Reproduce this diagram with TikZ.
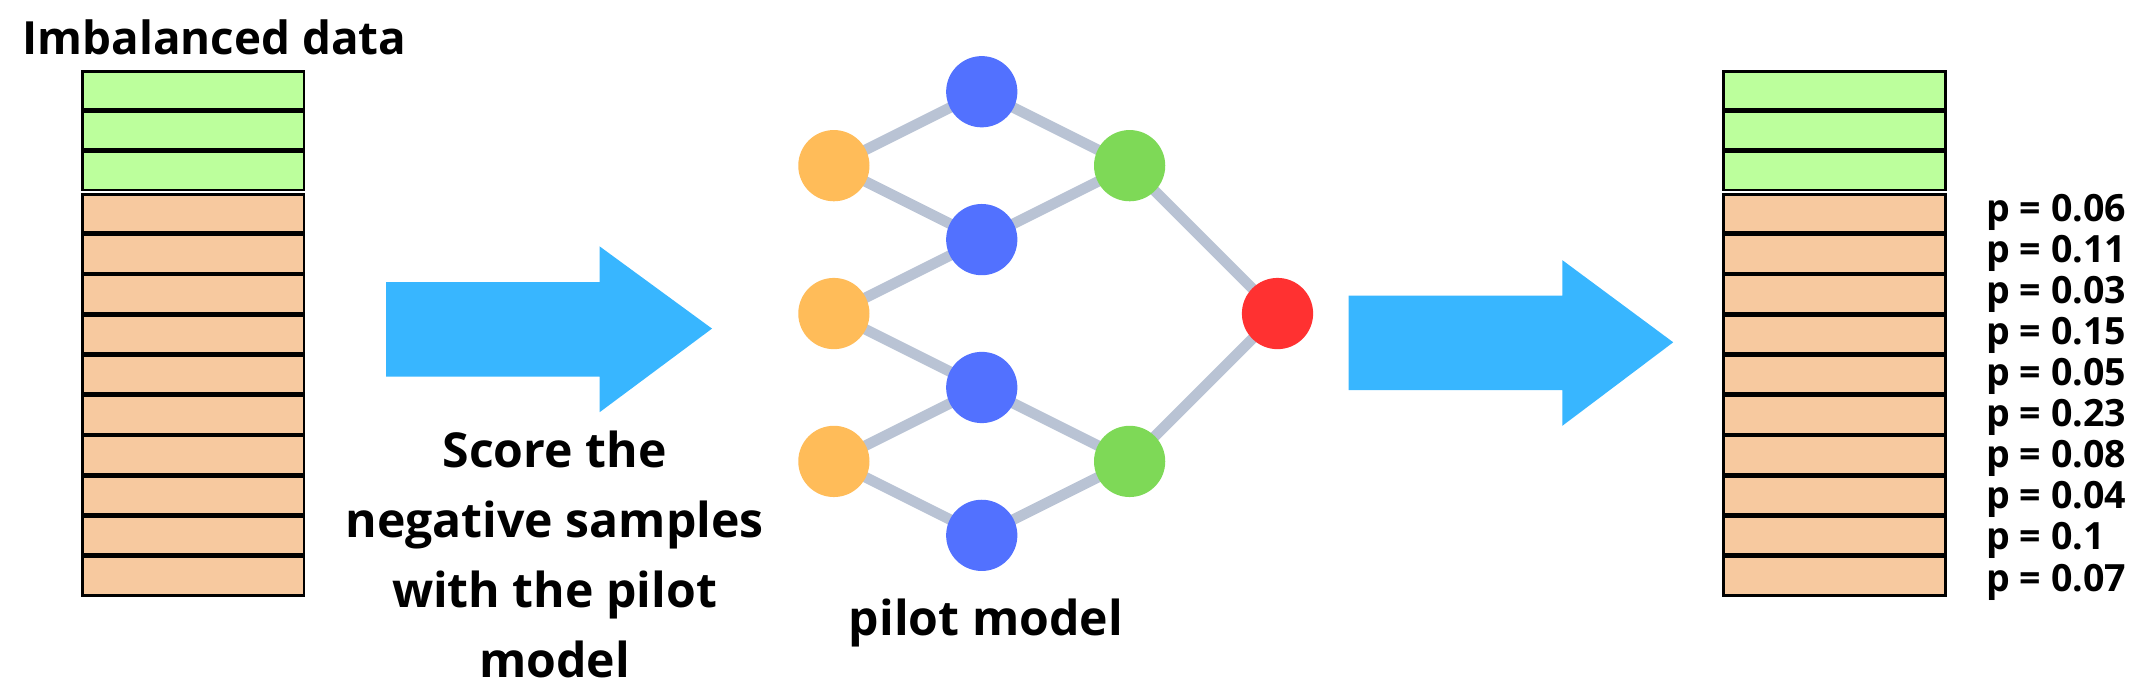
\documentclass[tikz,border=0pt]{standalone}
\usepackage{fontspec}
\setmainfont{Open Sans}
\usetikzlibrary{positioning}
\definecolor{rowgreen}{HTML}{BCFF9C}
\definecolor{roworange}{HTML}{F7C99F}
\definecolor{nblue}{HTML}{5271FF}
\definecolor{norange}{HTML}{FFBC59}
\definecolor{ngreen}{HTML}{7ED957}
\definecolor{nred}{HTML}{FF3131}
\definecolor{arrowblue}{HTML}{38B6FF}
\definecolor{edgegray}{HTML}{B9C3D4}
\tikzset{
  row/.style = {draw=black, line width=0.6pt, minimum width=1.62cm, minimum height=0.28cm, inner sep=0pt},
  unit/.style = {circle, minimum size=0.52cm, inner sep=0pt},
  link/.style = {edgegray, line width=2.2pt},
  lbl/.style = {font=\bfseries\fontsize{10}{14.5}\selectfont, align=center},
}
\begin{document}
\begin{tikzpicture}[x=0.01cm, y=-0.01cm]
  \useasboundingbox (0,0) rectangle (1568,501);
  \node (title) [anchor=west, font=\bfseries\fontsize{9.5}{11}\selectfont] at (4,27) {Imbalanced data};

  % data stacks
  \foreach \x/\s in {141/l, 1340/r} {
    \foreach \i in {1,2,3}
      \node (\s g\i) [row, fill=rowgreen] at (\x, {66+29.4*(\i-1)}) {};
    \foreach \i in {1,...,10}
      \node (\s o\i) [row, fill=roworange] at (\x, {156+29.4*(\i-1)}) {};
  }

  % probabilities
  \foreach \p [count=\i] in {0.06,0.11,0.03,0.15,0.05,0.23,0.08,0.04,0.1,0.07}
    \node (p\i) [anchor=west, font=\bfseries\fontsize{7.8}{9}\selectfont, inner sep=0pt] at (1450, {155+30*(\i-1)}) {p = \p};

  % arrows
  \fill[arrowblue] (282,206) -- (438,206) -- (438,180) -- (520,240) -- (438,301) -- (438,275) -- (282,275) -- cycle;
  \fill[arrowblue] (985,216) -- (1141,216) -- (1141,190) -- (1222,250) -- (1141,311) -- (1141,285) -- (985,285) -- cycle;

  \node (score) [lbl] at (405,405) {Score the\\negative samples\\with the pilot\\model};

  % pilot model
  \node (o1) [unit] at (609,121) {};
  \node (o2) [unit] at (609,229) {};
  \node (o3) [unit] at (609,337) {};
  \node (b1) [unit] at (717,67) {};
  \node (b2) [unit] at (717,175) {};
  \node (b3) [unit] at (717,283) {};
  \node (b4) [unit] at (717,391) {};
  \node (g1) [unit] at (825,121) {};
  \node (g2) [unit] at (825,337) {};
  \node (out) [unit] at (933,229) {};

  \foreach \a/\b in {o1/b1, o1/b2, o2/b2, o2/b3, o3/b3, o3/b4, b1/g1, b2/g1, b3/g2, b4/g2, g1/out, g2/out}
    \draw[link] (\a.center) -- (\b.center);
  \foreach \n/\c in {o1/norange, o2/norange, o3/norange, b1/nblue, b2/nblue, b3/nblue, b4/nblue, g1/ngreen, g2/ngreen, out/nred}
    \fill[\c] (\n) circle (0.26cm);

  \node (pilot) [lbl] at (720,455) {pilot model};
\end{tikzpicture}
\end{document}
